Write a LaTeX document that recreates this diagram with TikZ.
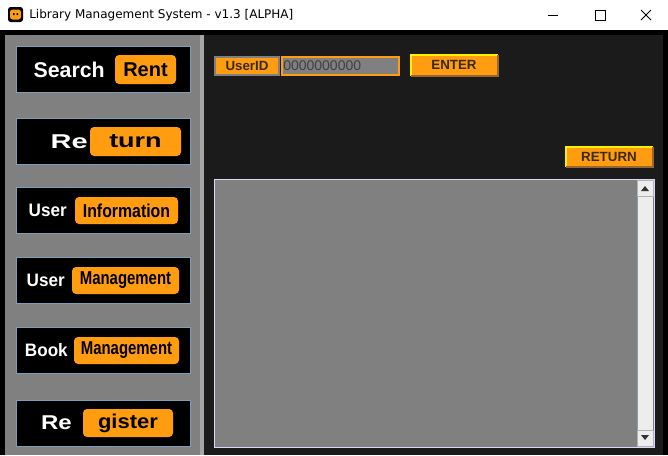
\documentclass[tikz,border=0pt]{standalone}
\usepackage{fontspec}
\setmainfont{Liberation Sans}
\newfontfamily\titlefont{DejaVu Sans}
\definecolor{org}{HTML}{FF9C10}
\definecolor{dark}{HTML}{1B1B1B}
\definecolor{pgrey}{HTML}{808080}
\definecolor{bord}{HTML}{7F9DB9}
\definecolor{txt}{HTML}{3A2A10}
\begin{document}
\begin{tikzpicture}[x=0.75pt,y=-0.75pt,
  menubtn/.style={draw=bord,fill=black,line width=0.75pt},
  pill/.style={fill=org,rounded corners=3pt,inner sep=0pt},
  wtxt/.style={text=white,font=\bfseries\fontsize{14.5}{16}\selectfont,anchor=east,inner sep=0pt},
  btxt/.style={text=black,font=\bfseries\fontsize{14}{16}\selectfont,inner sep=0pt},
  jtxt/.style={text=txt,font=\bfseries\fontsize{10}{11}\selectfont,inner sep=0pt}]
\useasboundingbox (0,0) rectangle (668,455);
% window
\fill[white] (0,0) rectangle (668,30);
\fill[black] (0,30) rectangle (668,455);
\fill[pgrey] (5,35) rectangle (200,455);
\fill[gray!70] (200,35) rectangle (204,455);
\fill[dark] (204,35) rectangle (663,455);
% title bar
\fill[black,rounded corners=2pt] (8,7) rectangle (23,22);
\fill[org,rounded corners=2pt] (10,9.5) rectangle (21,19.5);
\fill[black] (13,13) rectangle (14.5,15) (16.5,13) rectangle (18,15);
\node[anchor=west,inner sep=0pt,font=\titlefont\fontsize{9}{10}\selectfont] (title) at (29,15) {Library Management System - v1.3 [ALPHA]};
\draw[line width=0.75pt] (548,15.5) -- (558,15.5);
\draw[line width=0.75pt] (595,10) rectangle (605,20);
\draw[line width=0.75pt] (641,10) -- (651,20) (641,20) -- (651,10);
% menu buttons
\draw[menubtn] (16,46) rectangle (190,92);
\node[pill,minimum width=61pt*0.75,minimum height=29pt*0.75] (rent) at (145.5,69.5) {};
\node[btxt,font=\bfseries\fontsize{15}{16}\selectfont] at (rent) {Rent};
\node[wtxt,font=\bfseries\fontsize{16}{18}\selectfont] (search) at (105,69.5) {Search};

\draw[menubtn] (16,118) rectangle (190,164);
\node[pill,minimum width=91pt*0.75,minimum height=29pt*0.75] (turn) at (135.5,141.5) {};
\node[btxt,font=\bfseries\fontsize{15}{16}\selectfont] at (turn) {\scalebox{1.35}[1]{turn}};
\node[wtxt,font=\bfseries\fontsize{15}{16}\selectfont] (re1) at (88,141.5) {\scalebox{1.45}[1]{Re}};

\draw[menubtn] (16,187) rectangle (190,233);
\node[pill,minimum width=103pt*0.75,minimum height=27pt*0.75] (info) at (126.5,210.5) {};
\node[btxt] at (info) {\scalebox{0.85}[1]{Information}};
\node[wtxt,font=\bfseries\fontsize{13.5}{14}\selectfont] (user1) at (67,210.5) {\scalebox{0.95}[1]{User}};

\draw[menubtn] (16,257) rectangle (190,303);
\node[pill,minimum width=107pt*0.75,minimum height=27pt*0.75] (um) at (125.5,280.5) {};
\node[btxt] at (um) {\scalebox{0.8}[1]{Management}};
\node[wtxt,font=\bfseries\fontsize{13.5}{14}\selectfont] (user2) at (65,280.5) {\scalebox{0.95}[1]{User}};

\draw[menubtn] (16,327) rectangle (190,373);
\node[pill,minimum width=105pt*0.75,minimum height=27pt*0.75] (bm) at (126.5,350.5) {};
\node[btxt] at (bm) {\scalebox{0.8}[1]{Management}};
\node[wtxt,font=\bfseries\fontsize{13.5}{14}\selectfont] (book) at (68,350.5) {\scalebox{0.95}[1]{Book}};

\draw[menubtn] (16,400) rectangle (190,446);
\node[pill,minimum width=90pt*0.75,minimum height=28pt*0.75] (gis) at (128,423) {};
\node[btxt,font=\bfseries\fontsize{15}{16}\selectfont] at (gis) {\scalebox{1.1}[1]{gister}};
\node[wtxt,font=\bfseries\fontsize{15}{16}\selectfont] (re2) at (72,423) {\scalebox{1.2}[1]{Re}};

% top controls
\draw[draw=pgrey,fill=org,line width=1.5pt] (215,57) rectangle (279,75);
\node[jtxt] (uid) at (247,66) {UserID};
\draw[draw=org,fill=pgrey,line width=1.5pt] (282,57) rectangle (399,75);
\node[anchor=west,inner sep=0pt,text=black!75,font=\fontsize{10.5}{11}\selectfont] (field) at (283,66) {0000000000};
% ENTER
\fill[org] (410,54) rectangle (498,76);
\draw[yellow,line width=1.5pt] (411,76) -- (411,55) -- (498,55);
\draw[brown!80!black,line width=1.5pt] (411,75.5) -- (497.5,75.5) -- (497.5,55);
\node[jtxt] (enter) at (454,65) {ENTER};
% RETURN
\fill[org] (565,146) rectangle (653,167);
\draw[yellow,line width=1.5pt] (566,167) -- (566,147) -- (653,147);
\draw[brown!80!black,line width=1.5pt] (566,166.5) -- (652.5,166.5) -- (652.5,147);
\node[jtxt] (ret) at (609,157) {RETURN};
% text area
\draw[fill=pgrey,draw=white!85!blue,line width=0.75pt] (214,179) rectangle (654,447);
\fill[white!93!black] (637,180) rectangle (653,446);
\draw[bord] (637,180) -- (637,446);
\draw[draw=gray!60,fill=white!93!black] (637,180) rectangle (653,196);
\draw[draw=gray!60,fill=white!93!black] (637,430) rectangle (653,446);
\fill[black!80] (641,191) -- (649,191) -- (645,186) -- cycle;
\fill[black!80] (641,435) -- (649,435) -- (645,440) -- cycle;
\end{tikzpicture}
\end{document}
